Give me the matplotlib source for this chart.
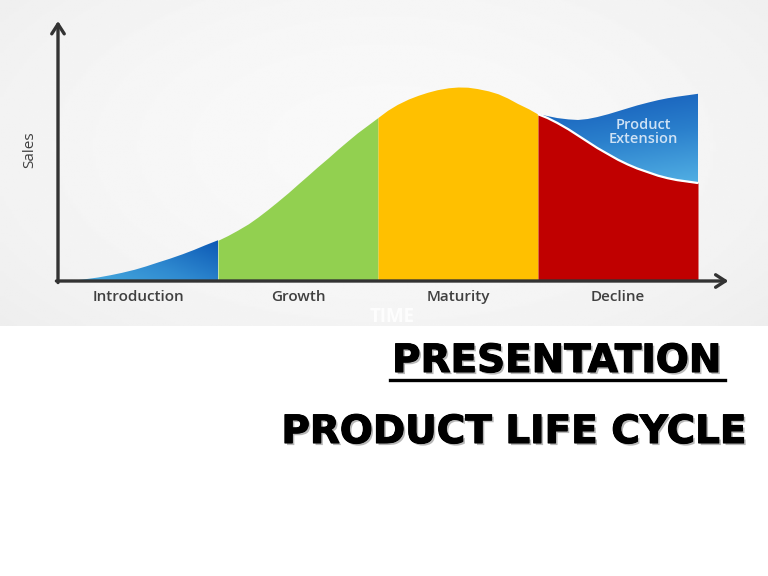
import numpy as np
import matplotlib
matplotlib.use("Agg")
import matplotlib.pyplot as plt
from matplotlib import patheffects as pe
from matplotlib.colors import LinearSegmentedColormap

# ---- data (time in phase units, sales relative to peak = 100) ----
phases = ["Introduction", "Growth", "Maturity", "Decline"]
intro_t = [0.075, 0.16, 0.25, 0.33, 0.4, 0.48, 0.55, 0.62, 0.7, 0.78, 0.85, 0.92, 1.0]
intro_s = [0.0, 0.8, 1.8, 3.0, 4.2, 5.8, 7.5, 9.4, 11.5, 13.8, 16.0, 18.4, 21.0]
growth_t = [1.0, 1.06, 1.12, 1.19, 1.25, 1.31, 1.37, 1.44, 1.5, 1.56, 1.62, 1.69,
            1.75, 1.81, 1.87, 1.94, 2.0]
growth_s = [21.0, 23.4, 26.1, 29.5, 33.0, 36.8, 40.8, 45.6, 50.0, 54.3, 58.7, 63.6,
            68.0, 72.2, 76.3, 80.6, 84.3]
maturity_t = [2.0, 2.06, 2.12, 2.19, 2.25, 2.31, 2.37, 2.44, 2.5, 2.56, 2.62, 2.69,
              2.75, 2.81, 2.87, 2.94, 3.0]
maturity_s = [84.3, 88.0, 91.0, 93.8, 95.7, 97.3, 98.6, 99.6, 100.0, 99.9, 99.2, 98.0,
              96.5, 94.3, 91.6, 88.8, 86.0]
decline_t = [3.0, 3.06, 3.12, 3.19, 3.25, 3.31, 3.37, 3.44, 3.5, 3.56, 3.62, 3.69,
             3.75, 3.81, 3.87, 3.94, 4.0]
decline_s = [86.0, 84.0, 81.5, 78.2, 75.0, 71.8, 68.6, 65.3, 62.5, 60.1, 58.0, 56.0,
             54.3, 53.0, 52.0, 51.2, 50.5]
extension_s = [86.0, 85.0, 84.0, 83.3, 83.0, 83.5, 84.5, 86.0, 87.5, 89.0, 90.5, 92.0,
               93.2, 94.2, 95.0, 95.8, 96.5]

fig = plt.figure(figsize=(7.68, 5.76), dpi=100)
fig.patch.set_facecolor("white")

# axes covering the chart band (top 326 px of the figure)
H = 576.0
ax = fig.add_axes([0, 1 - 326 / H, 1, 326 / H])
x0, x1 = (0 - 58) / 160.0, (768 - 58) / 160.0
y0, y1 = (281 - 326) / 1.94, (281 - 0) / 1.94
ax.set_xlim(x0, x1)
ax.set_ylim(y0, y1)
ax.axis("off")

# background radial gradient
yy, xx = np.mgrid[0:1:200j, 0:1:300j]
r2 = ((xx - 0.5) / 0.6) ** 2 + ((yy - 0.55) / 0.75) ** 2
bg = np.clip(0.975 - 0.035 * r2, 0.92, 1.0)
ax.imshow(bg, cmap="gray", vmin=0, vmax=1, extent=[x0, x1, y0, y1],
          origin="lower", aspect="auto", zorder=0)

blue_intro = LinearSegmentedColormap.from_list("bi", ["#4aaee0", "#2f8ad0", "#0b57b4"])
blue_ext = LinearSegmentedColormap.from_list("be", ["#52b0e4", "#2a7fcc", "#1258b8"])

# Introduction (blue gradient)
it = np.asarray(intro_t)
poly = ax.fill_between(it, 0, intro_s, facecolor="none", edgecolor="none", zorder=2)
gy, gx = np.mgrid[0:1:100j, 0:1:100j]
im = ax.imshow(0.6 * gx + 0.4 * gy, cmap=blue_intro, extent=[it.min(), it.max(), 0, 22],
               origin="lower", aspect="auto", zorder=2, vmin=0, vmax=1)
im.set_clip_path(poly.get_paths()[0], transform=ax.transData)
# Growth
ax.fill_between(growth_t, 0, growth_s, color="#92d050", lw=0, zorder=2)
# Maturity
ax.fill_between(maturity_t, 0, maturity_s, color="#ffc000", lw=0, zorder=2)
# Product extension (blue gradient between decline and extension)
poly = ax.fill_between(decline_t, decline_s, extension_s, facecolor="none",
                       edgecolor="none", zorder=2)
im = ax.imshow(0.8 * gy + 0.2 * (1 - gx), cmap=blue_ext, extent=[3.0, 4.0, 50, 97],
               origin="lower", aspect="auto", zorder=2, vmin=0, vmax=1)
im.set_clip_path(poly.get_paths()[0], transform=ax.transData)
# Decline
ax.fill_between(decline_t, 0, decline_s, color="#c00000", lw=0, zorder=3)
ax.plot(decline_t, decline_s, color="white", lw=1.6, zorder=4,
        solid_capstyle="butt")

# axes arrows
axis_color = "#333333"
ax.annotate("", xy=(0, 134), xytext=(0, -0.8),
            arrowprops=dict(arrowstyle="->,head_length=0.7,head_width=0.45",
                            lw=2.4, color=axis_color, shrinkA=0, shrinkB=0),
            zorder=5)
ax.annotate("", xy=(4.19, 0), xytext=(-0.01, 0),
            arrowprops=dict(arrowstyle="->,head_length=0.7,head_width=0.45",
                            lw=2.4, color=axis_color, shrinkA=0, shrinkB=0),
            zorder=5)

# phase labels
for i, name in enumerate(phases):
    ax.text(i + 0.5, -8.0, name, ha="center", va="center", fontsize=11,
            family="Open Sans", fontweight="semibold", color="#404040", zorder=6)

ax.text(-0.175, 67.5, "Sales", rotation=90, ha="center", va="center",
        fontsize=11, family="Open Sans", color="#404040", zorder=6)
ax.text(2.09, -18.5, "TIME", ha="center", va="center", fontsize=13.5,
        family="Open Sans", fontweight="bold", color="white", alpha=0.85, zorder=6)
ax.text(3.66, 80.6, "Product", ha="center", va="center", fontsize=10.5,
        family="Open Sans", fontweight="semibold", color="#cfe2f5", zorder=6)
ax.text(3.66, 73.2, "Extension", ha="center", va="center", fontsize=10.5,
        family="Open Sans", fontweight="semibold", color="#cfe2f5", zorder=6)

# titles
shadow = [pe.withSimplePatchShadow(offset=(1.5, -1.5), shadow_rgbFace="#888888",
                                   alpha=0.6),
          pe.withStroke(linewidth=0.8, foreground="black")]
fig.text(557 / 768, 1 - 361 / H, "PRESENTATION", ha="center", va="center",
         fontsize=28, family="DejaVu Sans", fontweight="bold", color="black",
         path_effects=shadow)
fig.add_artist(plt.Line2D([390 / 768, 725 / 768], [1 - 380 / H, 1 - 380 / H],
                          color="black", lw=2.4, transform=fig.transFigure))
fig.text(514 / 768, 1 - 432 / H, "PRODUCT LIFE CYCLE", ha="center", va="center",
         fontsize=28, family="DejaVu Sans", fontweight="bold", color="black",
         path_effects=shadow)

fig.savefig("out.png", dpi=100)
